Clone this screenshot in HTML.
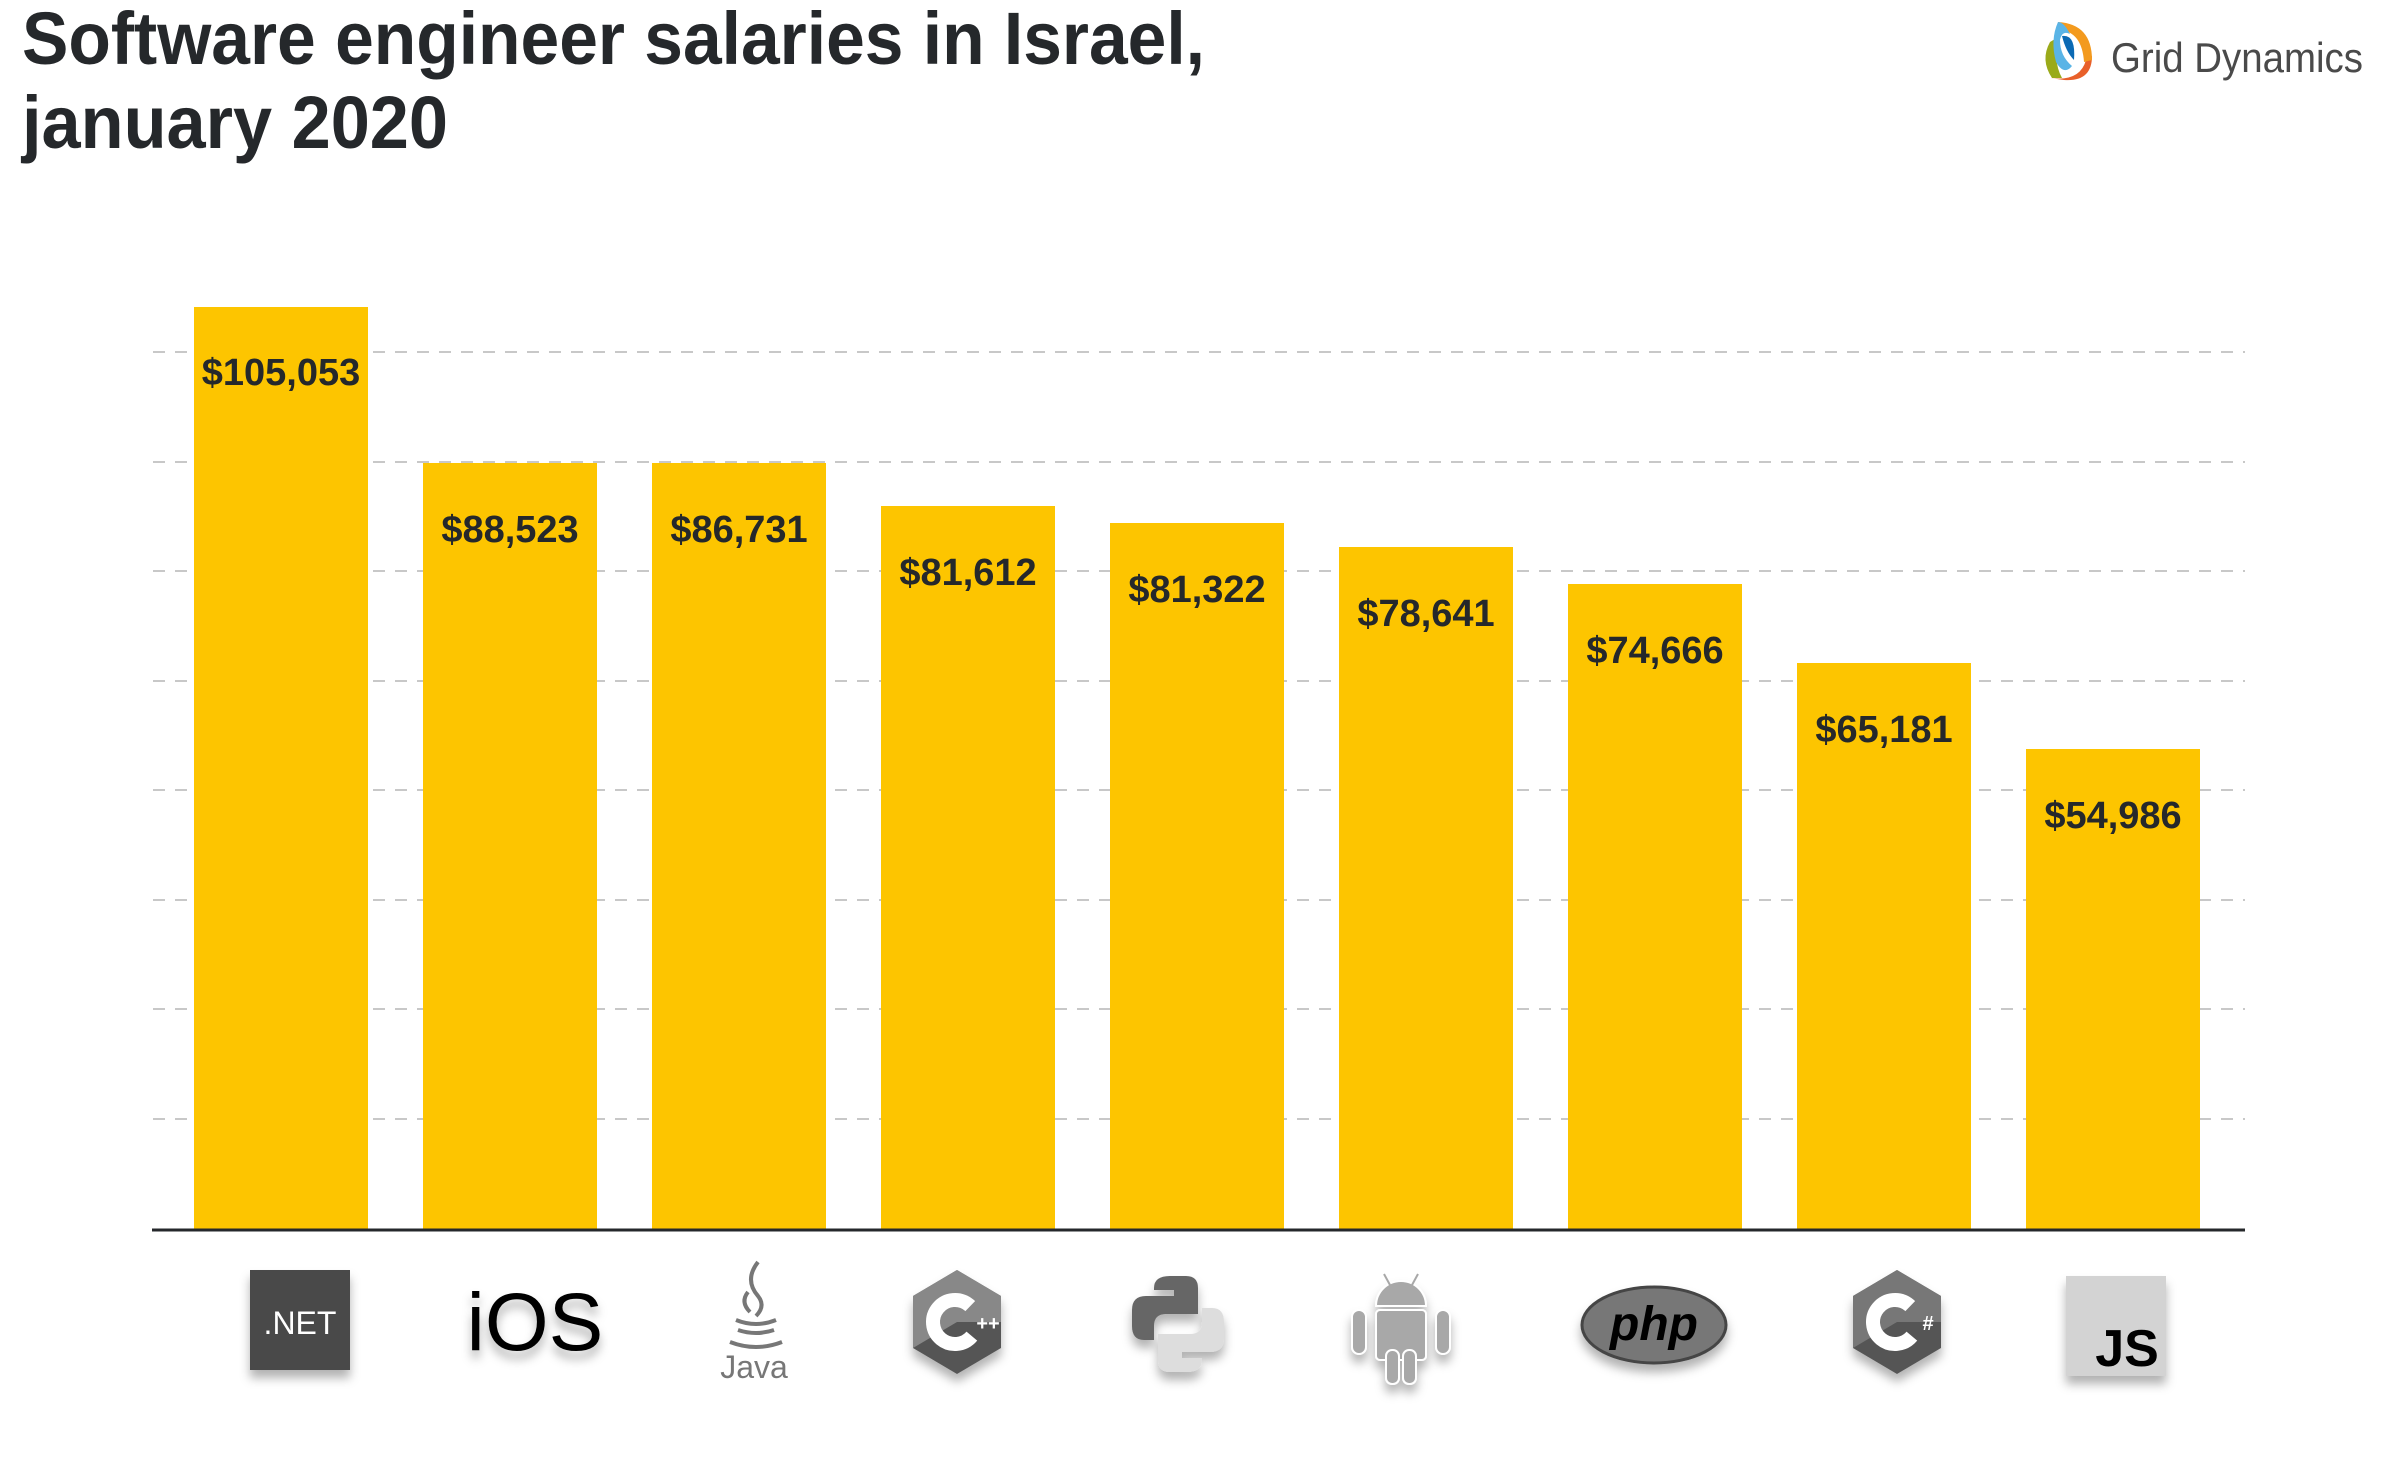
<!DOCTYPE html>
<html><head><meta charset="utf-8"><style>
html,body{margin:0;padding:0;background:#fff;}
svg{display:block;}
</style></head><body>
<svg width="2400" height="1476" viewBox="0 0 2400 1476" xmlns="http://www.w3.org/2000/svg">
<defs>
<filter id="sh" x="-30%" y="-30%" width="160%" height="170%"><feDropShadow dx="0" dy="8" stdDeviation="5" flood-color="#000" flood-opacity="0.3"/></filter>
</defs>
<rect width="2400" height="1476" fill="#fff"/>
<g font-family="'Liberation Sans',sans-serif" font-weight="bold" fill="#25282b">
<text x="22" y="64" font-size="74" textLength="1183" lengthAdjust="spacingAndGlyphs">Software engineer salaries in Israel,</text>
<text x="22" y="148" font-size="74" textLength="426" lengthAdjust="spacingAndGlyphs">january 2020</text>
</g>
<!-- logo -->
<g>
<path d="M2052 78 Q2040 60 2050 42 L2060 36 Q2052 60 2062 78 Z" fill="#9aaa1a"/>
<path d="M2050 78 Q2080 82 2086 60 L2092 56 Q2092 82 2064 80 Z" fill="#e8602a"/>
<path d="M2058 22 Q2092 24 2092 60 L2084 62 Q2082 32 2060 30 Z" fill="#f39a1e"/>
<path d="M2058 22 Q2050 40 2056 62 Q2064 76 2072 66 Q2060 56 2060 40 Q2062 30 2070 34 Q2064 22 2058 22Z" fill="#5ab4e6"/>
<path d="M2062 36 Q2076 34 2074 60 Q2066 52 2062 36Z" fill="#0b6ab4"/>
</g>
<text x="2111" y="72" font-family="'Liberation Sans',sans-serif" font-size="42" fill="#4a4a4a" textLength="252" lengthAdjust="spacingAndGlyphs">Grid Dynamics</text>
<!-- grid -->
<g stroke="#c8c8c8" stroke-width="2" stroke-dasharray="12 10">
<line x1="153" y1="352" x2="2245" y2="352"/>
<line x1="153" y1="462" x2="2245" y2="462"/>
<line x1="153" y1="571" x2="2245" y2="571"/>
<line x1="153" y1="681" x2="2245" y2="681"/>
<line x1="153" y1="790" x2="2245" y2="790"/>
<line x1="153" y1="900" x2="2245" y2="900"/>
<line x1="153" y1="1009" x2="2245" y2="1009"/>
<line x1="153" y1="1119" x2="2245" y2="1119"/>
</g>
<!-- bars -->
<g fill="#fdc500">
<rect x="194" y="307" width="174" height="922"/>
<rect x="423" y="463" width="174" height="766"/>
<rect x="652" y="463" width="174" height="766"/>
<rect x="881" y="506" width="174" height="723"/>
<rect x="1110" y="523" width="174" height="706"/>
<rect x="1339" y="547" width="174" height="682"/>
<rect x="1568" y="584" width="174" height="645"/>
<rect x="1797" y="663" width="174" height="566"/>
<rect x="2026" y="749" width="174" height="480"/>
</g>
<line x1="152" y1="1230" x2="2245" y2="1230" stroke="#25282b" stroke-width="3"/>
<g font-family="'Liberation Sans',sans-serif" font-weight="bold" font-size="38" fill="#25282b" text-anchor="middle">
<text x="281" y="385">$105,053</text>
<text x="510" y="542">$88,523</text>
<text x="739" y="542">$86,731</text>
<text x="968" y="585">$81,612</text>
<text x="1197" y="602">$81,322</text>
<text x="1426" y="626">$78,641</text>
<text x="1655" y="663">$74,666</text>
<text x="1884" y="742">$65,181</text>
<text x="2113" y="828">$54,986</text>
</g>
<!-- icons -->
<g filter="url(#sh)">
<rect x="250" y="1270" width="100" height="100" fill="#4a4a4a"/>
</g>
<text x="300" y="1334" font-family="'Liberation Sans',sans-serif" font-size="32" fill="#fff" text-anchor="middle">.NET</text>
<text x="535" y="1350" font-family="'Liberation Sans',sans-serif" font-size="82" fill="#000" text-anchor="middle" filter="url(#sh)">iOS</text>
<!-- java -->
<g fill="none" stroke="#777" stroke-width="4">
<path d="M758 1262 Q744 1280 758 1296 Q766 1306 756 1316"/>
<path d="M748 1292 Q740 1302 750 1312"/>
<path d="M736 1320 Q756 1328 776 1320"/>
<path d="M738 1330 Q756 1336 774 1330"/>
<path d="M730 1342 Q756 1352 782 1342"/>
</g>
<text x="754" y="1378" font-family="'Liberation Sans',sans-serif" font-size="32" fill="#777" text-anchor="middle">Java</text>
<!-- c++ -->
<g filter="url(#sh)">
<polygon points="957,1270 1001,1296 1001,1348 957,1374 913,1348 913,1296" fill="#555"/>
<polygon points="957,1270 1001,1296 1001,1322 957,1322 913,1348 913,1296" fill="#888"/>
</g>
<circle cx="955" cy="1322" r="22" fill="none" stroke="#fff" stroke-width="14" stroke-dasharray="105 40" transform="rotate(40 955 1322)"/>
<text x="988" y="1330" font-family="'Liberation Sans',sans-serif" font-weight="bold" font-size="20" fill="#fff" text-anchor="middle">++</text>
<!-- python -->
<g filter="url(#sh)">
<path d="M1170 1276 h16 q12 0 12 12 v26 h-32 q-12 0 -12 12 v14 h-10 q-12 0 -12 -14 v-16 q0 -14 14 -14 h28 v-6 h-20 v-2 q0 -12 16 -12z" fill="#666"/>
<path d="M1186 1372 h-16 q-12 0 -12 -12 v-26 h32 q12 0 12 -12 v-14 h10 q12 0 12 14 v16 q0 14 -14 14 h-28 v6 h20 v2 q0 12 -16 12z" fill="#ddd"/>
</g>
<!-- android -->
<g fill="#a8a8a8" stroke="#fff" stroke-width="2" filter="url(#sh)">
<path d="M1376 1306 a25 25 0 0 1 50 0z"/>
<rect x="1376" y="1310" width="50" height="50" rx="4"/>
<rect x="1352" y="1310" width="14" height="44" rx="7"/>
<rect x="1436" y="1310" width="14" height="44" rx="7"/>
<rect x="1386" y="1350" width="13" height="34" rx="6"/>
<rect x="1403" y="1350" width="13" height="34" rx="6"/>
</g>
<line x1="1384" y1="1274" x2="1390" y2="1285" stroke="#a8a8a8" stroke-width="2"/>
<line x1="1418" y1="1274" x2="1412" y2="1285" stroke="#a8a8a8" stroke-width="2"/>
<!-- php -->
<ellipse cx="1654" cy="1325" rx="72" ry="38" fill="#777" stroke="#444" stroke-width="3" filter="url(#sh)"/>
<text x="1654" y="1340" font-family="'Liberation Sans',sans-serif" font-weight="bold" font-style="italic" font-size="48" fill="#000" text-anchor="middle">php</text>
<!-- c# -->
<g filter="url(#sh)">
<polygon points="1897,1270 1941,1296 1941,1348 1897,1374 1853,1348 1853,1296" fill="#555"/>
<polygon points="1897,1270 1941,1296 1941,1322 1897,1322 1853,1348 1853,1296" fill="#777"/>
</g>
<circle cx="1895" cy="1322" r="22" fill="none" stroke="#fff" stroke-width="14" stroke-dasharray="105 40" transform="rotate(40 1895 1322)"/>
<text x="1928" y="1330" font-family="'Liberation Sans',sans-serif" font-weight="bold" font-size="20" fill="#fff" text-anchor="middle">#</text>
<!-- js -->
<rect x="2066" y="1276" width="100" height="100" fill="#d3d3d3" filter="url(#sh)"/>
<text x="2127" y="1366" font-family="'Liberation Sans',sans-serif" font-weight="bold" font-size="52" fill="#000" text-anchor="middle">JS</text>
</svg>
</body></html>
